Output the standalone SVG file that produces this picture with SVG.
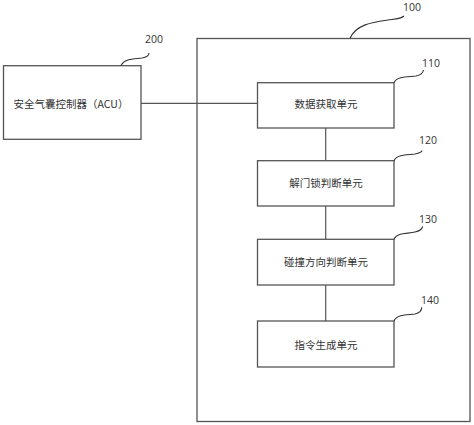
<svg xmlns="http://www.w3.org/2000/svg" width="474" height="425" viewBox="0 0 474 425">
<style>
.box{fill:#fff;stroke:#555;stroke-width:1.3}
.ln{fill:none;stroke:#555;stroke-width:1.2}
.ld{fill:none;stroke:#333;stroke-width:1.1}
.t{font-family:"Noto Sans CJK SC","Noto Sans",sans-serif;font-size:10.5px;fill:#333;text-anchor:middle;dominant-baseline:central}
.n{font-family:"Open Sans","Liberation Sans",sans-serif;font-size:10.5px;fill:#333;text-anchor:middle;dominant-baseline:central}
</style>
<rect width="474" height="425" fill="#fff"/>
<g id="node-100">
<rect class="box" x="197" y="38.5" width="273" height="383"/>
<path class="ld" d="M350,38.5 C356,24 374,22 388,20 C396,19 401,19 404,16"/>
<text class="n" x="412" y="7">100</text>
</g>
<g id="connectors">
<line class="ln" x1="141" y1="103.3" x2="257.5" y2="103.3"/>
<line class="ln" x1="325.7" y1="128" x2="325.7" y2="160.7"/>
<line class="ln" x1="325.7" y1="206" x2="325.7" y2="239.3"/>
<line class="ln" x1="325.7" y1="285" x2="325.7" y2="321"/>
</g>
<g id="node-200">
<rect class="box" x="3.5" y="65.7" width="137.5" height="73.6"/>
<text class="t" x="71" y="103.3">安全气囊控制器（ACU）</text>
<path class="ld" d="M121,65.7 C124,58 136,59 142,58 C147,57 149,56 149,53"/>
<text class="n" x="154" y="39">200</text>
</g>
<g id="node-110">
<rect class="box" x="257.5" y="82.7" width="136.5" height="45.3"/>
<text class="t" x="326" y="103.3">数据获取单元</text>
<path class="ld" d="M394,82.7 C397,76 408,77 416,76 C421,75 423,73 423.5,70"/>
<text class="n" x="431" y="62.7">110</text>
</g>
<g id="node-120">
<rect class="box" x="257.5" y="160.7" width="136.5" height="45.3"/>
<text class="t" x="326" y="182">解门锁判断单元</text>
<path class="ld" d="M394,160.7 C397,154 408,155 415,154 C420,153 422,152 422,150.5"/>
<text class="n" x="428" y="140">120</text>
</g>
<g id="node-130">
<rect class="box" x="257.5" y="239.3" width="136.5" height="45.7"/>
<text class="t" x="326" y="261.5">碰撞方向判断单元</text>
<path class="ld" d="M394,239.3 C397,232 408,234 415,232 C420,231 422,229 422.7,226.5"/>
<text class="n" x="428" y="219">130</text>
</g>
<g id="node-140">
<rect class="box" x="257.5" y="321" width="136.5" height="46"/>
<text class="t" x="326" y="344">指令生成单元</text>
<path class="ld" d="M394,321 C397,314 408,315 415,314 C420,313 421.7,311 421.7,307.3"/>
<text class="n" x="430" y="300">140</text>
</g>
</svg>
